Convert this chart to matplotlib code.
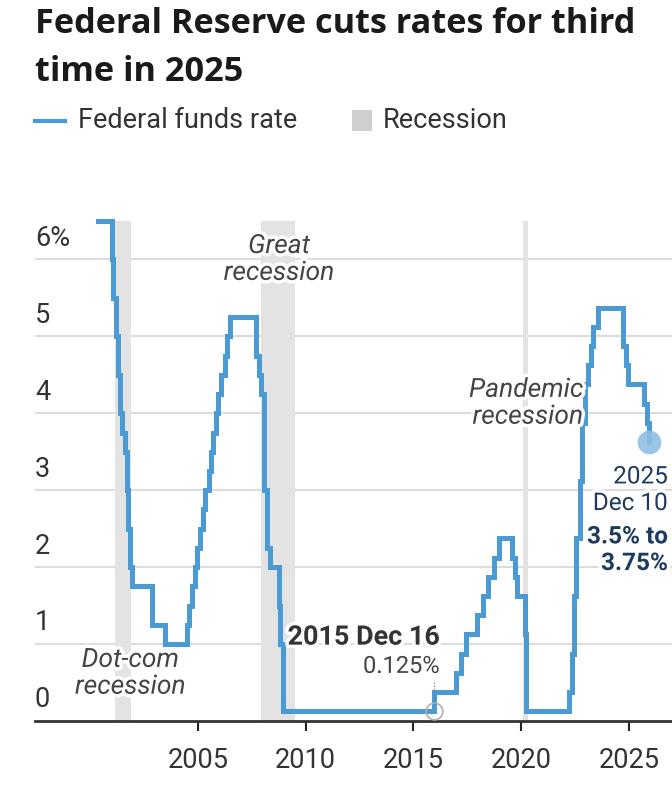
import datetime as dt

import matplotlib
matplotlib.use('Agg')
import matplotlib.pyplot as plt
import matplotlib.patheffects as pe
from matplotlib.lines import Line2D
from matplotlib.patches import Rectangle

plt.rcParams['font.family'] = ['Roboto', 'DejaVu Sans']

# Fecha del cambio de objetivo y punto medio del rango (en %)
fechas = [
    '2000-05-16', '2001-01-03', '2001-01-31', '2001-03-20', '2001-04-18', '2001-05-15',
    '2001-06-27', '2001-08-21', '2001-09-17', '2001-10-02', '2001-11-06', '2001-12-11',
    '2002-11-06', '2003-06-25', '2004-06-30', '2004-08-10', '2004-09-21', '2004-11-10',
    '2004-12-14', '2005-02-02', '2005-03-22', '2005-05-03', '2005-06-30', '2005-08-09',
    '2005-09-20', '2005-11-01', '2005-12-13', '2006-01-31', '2006-03-28', '2006-05-10',
    '2006-06-29', '2007-09-18', '2007-10-31', '2007-12-11', '2008-01-22', '2008-01-30',
    '2008-03-18', '2008-04-30', '2008-10-08', '2008-10-29', '2008-12-16', '2015-12-16',
    '2016-12-14', '2017-03-15', '2017-06-14', '2017-12-13', '2018-03-21', '2018-06-13',
    '2018-09-26', '2018-12-19', '2019-07-31', '2019-09-18', '2019-10-30', '2020-03-03',
    '2020-03-15', '2022-03-16', '2022-05-04', '2022-06-15', '2022-07-27', '2022-09-21',
    '2022-11-02', '2022-12-14', '2023-02-01', '2023-03-22', '2023-05-03', '2023-07-26',
    '2024-09-18', '2024-11-07', '2024-12-18', '2025-09-17', '2025-10-29', '2025-12-10',
]
tasas = [
    6.5, 6.0, 5.5, 5.0, 4.5, 4.0,
    3.75, 3.5, 3.0, 2.5, 2.0, 1.75,
    1.25, 1.0, 1.25, 1.5, 1.75, 2.0,
    2.25, 2.5, 2.75, 3.0, 3.25, 3.5,
    3.75, 4.0, 4.25, 4.5, 4.75, 5.0,
    5.25, 4.75, 4.5, 4.25, 3.5, 3.0,
    2.25, 2.0, 1.5, 1.0, 0.125, 0.375,
    0.625, 0.875, 1.125, 1.375, 1.625, 1.875,
    2.125, 2.375, 2.125, 1.875, 1.625, 1.125,
    0.125, 0.375, 0.875, 1.625, 2.375, 3.125,
    3.875, 4.375, 4.625, 4.875, 5.125, 5.375,
    4.875, 4.625, 4.375, 4.125, 3.875, 3.625,
]

recesiones = [('2001-03-01', '2001-11-30'), ('2007-12-01', '2009-06-30'), ('2020-02-01', '2020-04-30')]

anios_ticks = [2005, 2010, 2015, 2020, 2025]
tasas_ticks = [0, 1, 2, 3, 4, 5, 6]
etiquetas_y = ['0', '1', '2', '3', '4', '5', '6%']

titulo = ['Federal Reserve cuts rates for third', 'time in 2025']

fecha_2015 = '2015-12-16'
tasa_2015 = 0.125
fecha_fin = '2025-12-10'
tasa_fin = 3.625

AZUL = '#4a9ad4'
NAVY = '#1d3a5f'
GRIS_TEXTO = '#444444'


def anio_decimal(fecha):
    d = dt.date.fromisoformat(fecha)
    return d.year + (d.timetuple().tm_yday - 1) / 365.0


def fx(px):
    return px / 672


def fy(px):
    return 1 - px / 796


x = [anio_decimal(f) for f in fechas]

fig = plt.figure(figsize=(6.72, 7.96), dpi=100)
ax = fig.add_axes([fx(35), 75 / 796, 637 / 672, 500 / 796])

halo = [pe.withStroke(linewidth=5, foreground='white')]

for ini, fin in recesiones:
    ax.axvspan(anio_decimal(ini), anio_decimal(fin), color='#e3e3e3', lw=0, zorder=1)

for t in tasas_ticks[1:]:
    ax.axhline(t, color='#dcdcdc', lw=1.5, zorder=0.5)

ax.step(x, tasas, where='post', color=AZUL, lw=3.6, zorder=3, clip_on=False,
        solid_joinstyle='miter')

ax.plot(anio_decimal(fecha_2015), tasa_2015, 'o', ms=12, mfc='none', mec='#b0b0b0',
        mew=1.2, zorder=4, clip_on=False)
ax.plot([anio_decimal(fecha_2015)] * 2, [tasa_2015 + 0.1, 0.52], color='#777777',
        lw=0.8, ls=':', zorder=4)
ax.plot(anio_decimal(fecha_fin), tasa_fin, 'o', ms=17, color='#8fbfe3', alpha=0.9,
        mec='none', zorder=4, clip_on=False)

ax.set_xlim(1997.44, 2027.0)
ax.set_ylim(0, 6.5)

for sp in ['top', 'right', 'left']:
    ax.spines[sp].set_visible(False)
ax.spines['bottom'].set_color('#333333')
ax.spines['bottom'].set_linewidth(2)

ax.set_xticks(anios_ticks)
ax.set_xticklabels([str(a) for a in anios_ticks])
ax.tick_params(axis='x', length=7, width=1.5, color='#222222', pad=12,
               labelsize=19.5, labelcolor='#333333')
ax.set_yticks([])

trans = ax.get_yaxis_transform()
for t, lab in zip(tasas_ticks, etiquetas_y):
    ax.annotate(lab, (0, t), xycoords=trans, xytext=(0, 5.5), textcoords='offset points',
                ha='left', va='bottom', fontsize=19.5, color='#333333')

ax.text(2008.76, 6.0, 'Great\nrecession', ha='center', va='center', fontsize=19,
        style='italic', color=GRIS_TEXTO, linespacing=1.15, path_effects=halo, zorder=5)
ax.text(2001.86, 0.62, 'Dot-com\nrecession', ha='center', va='center', fontsize=19,
        style='italic', color=GRIS_TEXTO, linespacing=1.15, path_effects=halo, zorder=5)
ax.text(2022.87, 4.13, 'Pandemic\nrecession', ha='right', va='center', fontsize=19,
        style='italic', color=GRIS_TEXTO, linespacing=1.15, path_effects=halo, zorder=5)

ax.text(2016.23, 1.09, '2015 Dec 16', ha='right', va='center', fontsize=19.4,
        fontweight='bold', color='#333333', path_effects=halo, zorder=5)
ax.text(2016.23, 0.71, '0.125%', ha='right', va='center', fontsize=17,
        color='#444444', path_effects=halo, zorder=5)

ax.text(2026.8, 3.0, '2025\nDec 10', ha='right', va='center', fontsize=17.5,
        color=NAVY, linespacing=1.2, path_effects=halo, zorder=5)
ax.text(2026.8, 2.22, '3.5% to\n3.75%', ha='right', va='center', fontsize=17.5,
        fontweight='bold', color=NAVY, linespacing=1.2, path_effects=halo, zorder=5)

for i, linea in enumerate(titulo):
    fig.text(fx(35), fy(33 + 48 * i), linea, ha='left', va='baseline',
             fontsize=24.7, fontweight='bold', color='#1a1a1a', family='Open Sans')

# leyenda a mano: la línea y el cuadrado tienen anchos distintos
fig.add_artist(Line2D([fx(35), fx(65)], [fy(121), fy(121)], color=AZUL, lw=3,
                      transform=fig.transFigure))
fig.text(fx(78), fy(120), 'Federal funds rate', ha='left', va='center',
         fontsize=19.5, color='#333333')
fig.add_artist(Rectangle((fx(352), fy(131)), fx(20), 21 / 796, facecolor='#cfcfcf',
                         edgecolor='none', transform=fig.transFigure))
fig.text(fx(383), fy(120), 'Recession', ha='left', va='center',
         fontsize=19.5, color='#333333')

fig.savefig('out.png', dpi=100)
